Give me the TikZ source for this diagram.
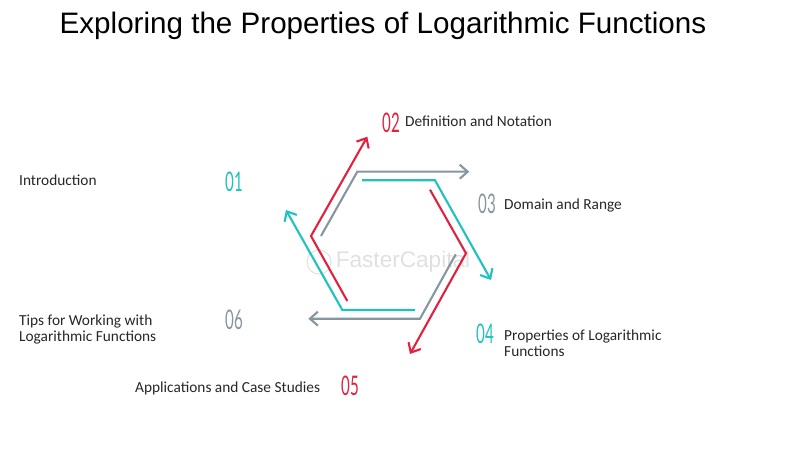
\documentclass[tikz,border=0pt]{standalone}
\usepackage{fontspec}
\usepackage{xcolor}
\usetikzlibrary{arrows.meta}
\setmainfont{Liberation Sans}
\newfontfamily\labelfont{Carlito}
\newfontfamily\numfont[FakeStretch=0.56]{Lato}
\definecolor{hexred}{HTML}{E0213F}
\definecolor{hexteal}{HTML}{1FC2BE}
\definecolor{hexgray}{HTML}{84969F}

\begin{document}
\begin{tikzpicture}[
    x=1pt, y=-1pt,
    >={Straight Barb[length=8pt,width=14pt]},
    every node/.style={inner sep=0pt},
    label/.style={right, font=\labelfont\fontsize{15.35}{16}\selectfont, align=left, text=black!85},
    num/.style={font=\numfont\fontsize{27}{27}\selectfont},
    hexline/.style={line width=2.1pt, line join=miter}
]
\useasboundingbox (0,0) rectangle (800,449);

% Title
\node[font=\fontsize{29.6}{32}\selectfont] (title) at (383,25.5) {Exploring the Properties of Logarithmic Functions};

% Watermark
\node[font=\fontsize{22.6}{25}\selectfont, text=black!12] (mark) at (403,262) {FasterCapital};
\node[circle, draw=black!12, line width=1pt, minimum size=24pt] (markicon) at (319,262) {};

% Numbers
\node[num, text=hexteal] (n1) at (234,182) {01};
\node[num, text=hexred] (n2) at (391,123) {02};
\node[num, text=hexgray] (n3) at (487,204) {03};
\node[num, text=hexteal] (n4) at (485,334) {04};
\node[num, text=hexgray] (n6) at (234,320) {06};
\node[num, text=hexred] (n5) at (350,386) {05};

% Labels
\node[label] (introduction) at (19,180) {Introduction};
\node[label] (definition) at (405,121) {Definition and Notation};
\node[label] (domain) at (504,205) {Domain and Range};
\node[label] (properties) at (504,343) {Properties of Logarithmic\\Functions};
\node[label] (tips) at (19,329) {Tips for Working with\\Logarithmic Functions};
\node[label] (applications) at (135,388) {Applications and Case Studies};

% Hexagon corners
\coordinate (redA) at (347.3,301);
\coordinate (redB) at (311,236);
\coordinate (redC) at (367.3,136.7);
\coordinate (grayA) at (321,236);
\coordinate (grayB) at (357.3,171.7);
\coordinate (grayC) at (469.3,171.7);
\coordinate (tealA) at (362,180.3);
\coordinate (tealB) at (435,180.3);
\coordinate (tealC) at (491,280);
\coordinate (redD) at (430,189.7);
\coordinate (redE) at (466,253.3);
\coordinate (redF) at (410,354);
\coordinate (grayD) at (455.7,254.3);
\coordinate (grayE) at (420,318.7);
\coordinate (grayF) at (308.3,318.7);
\coordinate (tealD) at (415,310);
\coordinate (tealE) at (342.3,310);
\coordinate (tealF) at (286,210);

% Hexagon arrows
\draw[->,hexline,hexred] (redA) -- (redB) -- (redC);
\draw[->,hexline,hexgray] (grayA) -- (grayB) -- (grayC);
\draw[->,hexline,hexteal] (tealA) -- (tealB) -- (tealC);
\draw[->,hexline,hexred] (redD) -- (redE) -- (redF);
\draw[->,hexline,hexgray] (grayD) -- (grayE) -- (grayF);
\draw[->,hexline,hexteal] (tealD) -- (tealE) -- (tealF);

\end{tikzpicture}
\end{document}
